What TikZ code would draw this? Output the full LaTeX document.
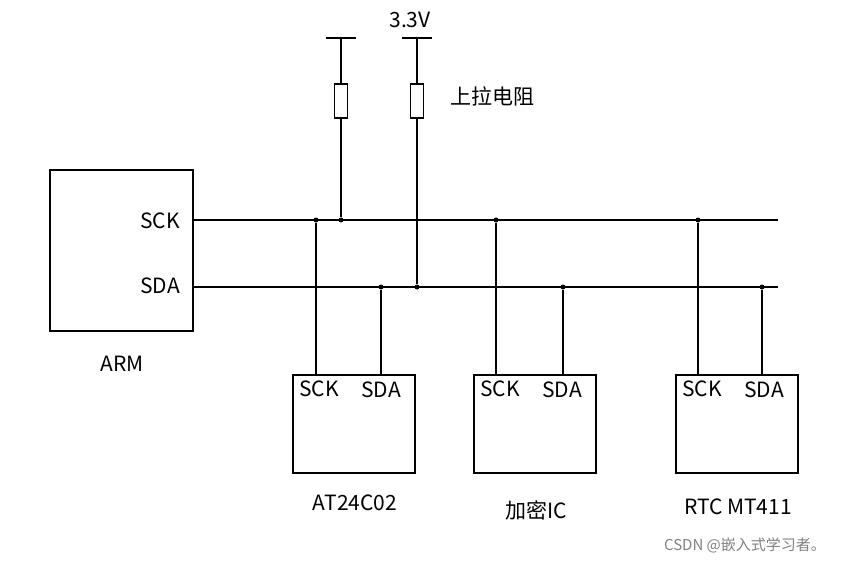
\documentclass[tikz,border=0pt]{standalone}
\usepackage{fontspec}
\setmainfont{Noto Sans CJK SC}
\begin{document}
\begin{tikzpicture}[x=1pt,y=-1pt,
  ln/.style={line width=1.2pt,black},
  bx/.style={draw,line width=1.2pt,inner sep=0},
  lb/.style={font=\fontsize{21}{21}\selectfont,inner sep=0},
  dot/.style={circle,fill,inner sep=0,minimum size=5pt}]
\useasboundingbox (0,0) rectangle (859,564);
% ARM
\draw[ln] (50,170) rectangle (193,331);
\node[lb] (armsck) at (160,221) {SCK};
\node[lb] (armsda) at (160,286) {SDA};
\node[lb] (arm) at (122,364) {ARM};
\coordinate (sckL) at (193,220); \coordinate (sckR) at (778,220);
\coordinate (sdaL) at (193,287); \coordinate (sdaR) at (778,287);
\draw[ln] (sckL) -- (sckR);
\draw[ln] (sdaL) -- (sdaR);
% resistors
\coordinate (t1) at (341,38); \coordinate (t2) at (417,38);
\draw[ln] (326,38) -- (356,38);
\draw[ln] (402,38) -- (432,38);
\node[bx,minimum width=13pt,minimum height=34pt] (r1) at (341,101) {};
\node[bx,minimum width=13pt,minimum height=34pt] (r2) at (417,101) {};
\node[dot] (d1) at (341,220) {};
\node[dot] (d2) at (417,287) {};
\draw[ln] (t1) -- (r1) -- (d1);
\draw[ln] (t2) -- (r2) -- (d2);
\node[lb] (v) at (410,20) {3.3V};
\node[lb] (pu) at (492,96) {上拉电阻};
% devices
\foreach \n/\x/\lab/\ly in {a/293/AT24C02/503, b/474/加密IC/510, c/676/RTC MT411/507}{
  \draw[ln] (\x,375) rectangle ++(122,98);
  \node[lb] (\n s) at (\x+26,389) {SCK};
  \node[lb] (\n d) at (\x+88,390) {SDA};
  \node[lb] (\n l) at (\x+62,\ly) {\lab};
}
\foreach \n/\xs/\xd in {a/316/381, b/496/563, c/698/762}{
  \node[dot] (\n1) at (\xs,220) {};
  \node[dot] (\n2) at (\xd,287) {};
  \coordinate (\n3) at (\xs,375); \coordinate (\n4) at (\xd,375);
  \draw[ln] (\n1) -- (\n3);
  \draw[ln] (\n2) -- (\n4);
}
\node[font=\fontsize{15}{15}\selectfont,text=gray,inner sep=0] (wm) at (745,545) {CSDN @嵌入式学习者。};
\end{tikzpicture}
\end{document}
